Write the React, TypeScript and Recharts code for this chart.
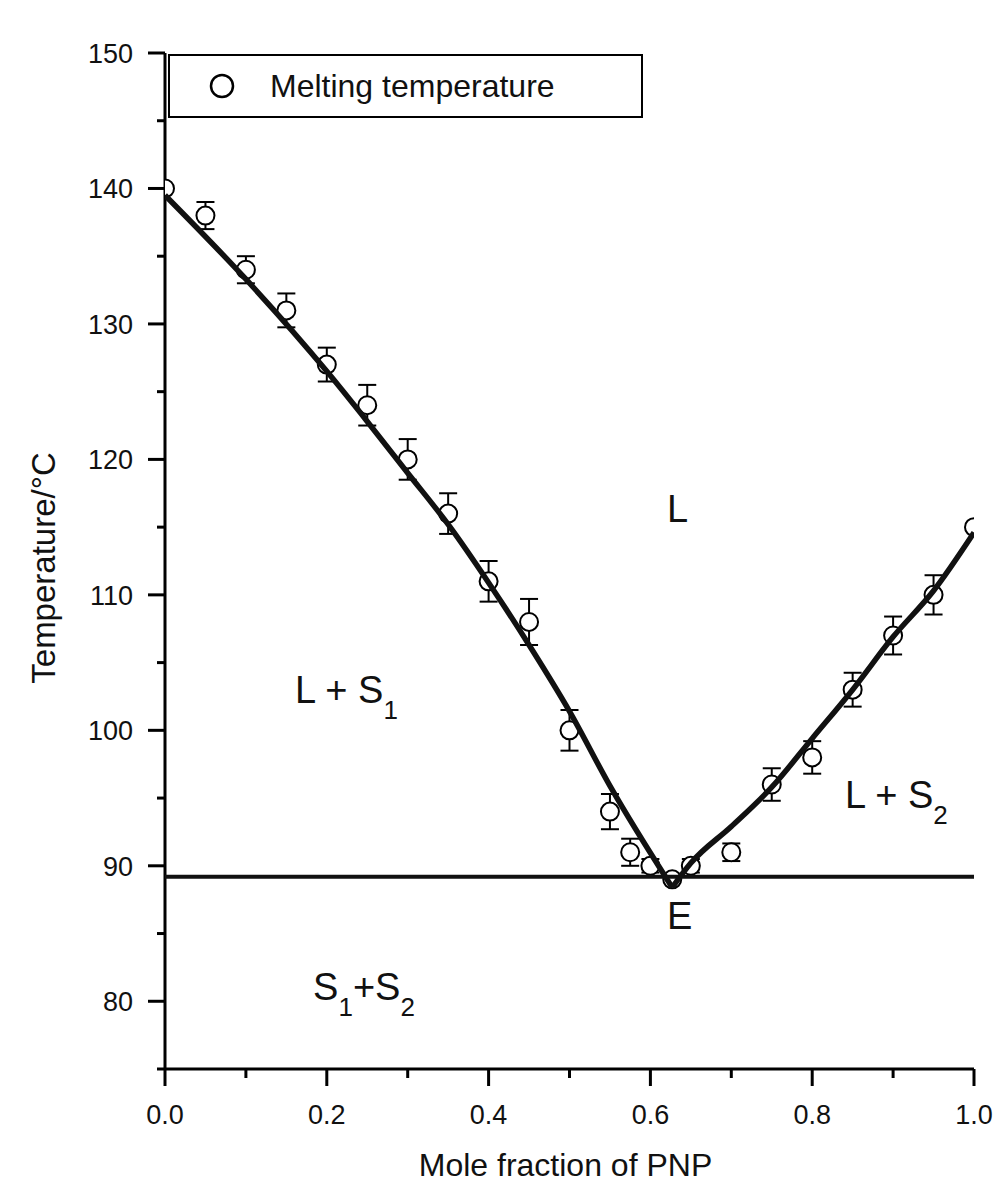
import React from "react";
import {
  ComposedChart,
  Scatter,
  XAxis,
  YAxis,
  ErrorBar,
  ReferenceDot,
  Legend,
} from "recharts";

// measured melting points
const moleFraction = [0, 0.05, 0.1, 0.15, 0.2, 0.25, 0.3, 0.35, 0.4, 0.45, 0.5, 0.55, 0.575, 0.6, 0.627, 0.65, 0.7, 0.75, 0.8, 0.85, 0.9, 0.95, 1.0];
const meltingTemp = [140, 138, 134, 131, 127, 124, 120, 116, 111, 108, 100, 94, 91, 90, 89, 90, 91, 96, 98, 103, 107, 110, 115];
const tempError = [0, 1, 1, 1.25, 1.25, 1.5, 1.5, 1.5, 1.5, 1.7, 1.5, 1.3, 1, 0.5, 0, 0.5, 0.65, 1.2, 1.2, 1.25, 1.4, 1.45, 0];

// liquidus curves
const leftCurveX = [0, 0.1, 0.2, 0.25, 0.3, 0.35, 0.4, 0.45, 0.5, 0.55, 0.627];
const leftCurveT = [139.5, 133.3, 126.5, 122.8, 119.0, 115.2, 110.9, 106.3, 101.4, 95.9, 88.4];
const rightCurveX = [0.627, 0.65, 0.7, 0.75, 0.8, 0.85, 0.9, 0.95, 1.0];
const rightCurveT = [88.4, 90.2, 92.9, 95.8, 99.4, 103.0, 106.9, 110.3, 114.6];

// eutectic line
const eutecticX = [0, 1];
const eutecticTemp = 89.2;

const xTicks = [0, 0.1, 0.2, 0.3, 0.4, 0.5, 0.6, 0.7, 0.8, 0.9, 1.0];
const yTicks = [75, 80, 85, 90, 95, 100, 105, 110, 115, 120, 125, 130, 135, 140, 145, 150];

const points = moleFraction.map((x, i) => ({ x, t: meltingTemp[i], err: tempError[i] }));
const leftCurve = leftCurveX.map((x, i) => ({ x, t: leftCurveT[i] }));
const rightCurve = rightCurveX.map((x, i) => ({ x, t: rightCurveT[i] }));
const eutectic = eutecticX.map((x) => ({ x, t: eutecticTemp }));

const FONT = "'Liberation Sans', Arial, Helvetica, sans-serif";

const XTick = ({ x, y, payload }: any) => {
  const v = payload.value;
  const major = Math.round(v * 10) % 2 === 0;
  return (
    <g>
      <line x1={x} y1={y} x2={x} y2={y + (major ? 17 : 9)} stroke="#000" strokeWidth={3} />
      {major && (
        <text x={x} y={y + 55} textAnchor="middle" fontSize={27} fontFamily={FONT} fill="#111">
          {v.toFixed(1)}
        </text>
      )}
    </g>
  );
};

const YTick = ({ x, y, payload }: any) => {
  const v = payload.value;
  const major = v % 10 === 0;
  return (
    <g>
      <line x1={x} y1={y} x2={x - (major ? 17 : 8)} y2={y} stroke="#000" strokeWidth={3} />
      {major && (
        <text x={x - 32} y={y + 10} textAnchor="end" fontSize={27} fontFamily={FONT} fill="#111">
          {v}
        </text>
      )}
    </g>
  );
};

const Circle = ({ cx, cy }: any) => (
  <circle cx={cx} cy={cy} r={9} fill="#fff" stroke="#000" strokeWidth={2} />
);

const NoMark = () => <g />;

const LegendBox = () => (
  <div
    style={{
      width: 475,
      height: 64,
      border: "2.5px solid #000",
      boxSizing: "border-box",
      background: "#fff",
      display: "flex",
      alignItems: "center",
      fontFamily: FONT,
      fontSize: 32,
      color: "#111",
    }}
  >
    <svg width={100} height={40} style={{ flex: "none" }}>
      <circle cx={52} cy={20} r={11} fill="#fff" stroke="#000" strokeWidth={2.5} />
    </svg>
    <span>Melting temperature</span>
  </div>
);

const regionText = (parts: [string, boolean][]) => (props: any) => {
  let sub = false;
  return (
    <text x={props.cx} y={props.cy} fontSize={38} fontFamily={FONT} fill="#111">
      {parts.map(([s, isSub], i) => {
        const dy = isSub && !sub ? 16 : !isSub && sub ? -16 : 0;
        sub = isSub;
        return (
          <tspan key={i} dy={dy} fontSize={isSub ? 26 : 38}>
            {s}
          </tspan>
        );
      })}
    </text>
  );
};

export default function App() {
  return (
    <div style={{ position: "absolute", left: 0, top: 0, background: "#fff" }}>
      <ComposedChart width={1001} height={1194} margin={{ top: 53, right: 27, bottom: 0, left: 0 }}>
        <XAxis
          dataKey="x"
          type="number"
          domain={[0, 1]}
          ticks={xTicks}
          interval={0}
          allowDataOverflow
          height={125}
          tickSize={0}
          tickMargin={0}
          tick={<XTick />}
          axisLine={{ stroke: "#000", strokeWidth: 3 }}
          label={{
            content: ({ viewBox }: any) => (
              <text
                x={viewBox.x + viewBox.width / 2 - 4}
                y={viewBox.y + 107}
                textAnchor="middle"
                fontSize={32}
                fontFamily={FONT}
                fill="#111"
              >
                Mole fraction of PNP
              </text>
            ),
          }}
        />
        <XAxis
          xAxisId="top"
          orientation="top"
          type="number"
          domain={[0, 1]}
          height={0}
          tick={false}
          tickLine={false}
          axisLine={{ stroke: "#000", strokeWidth: 3 }}
        />
        <YAxis
          type="number"
          domain={[75, 150]}
          ticks={yTicks}
          interval={0}
          allowDataOverflow
          width={165}
          tickSize={0}
          tickMargin={0}
          tick={<YTick />}
          axisLine={{ stroke: "#000", strokeWidth: 3 }}
          label={{
            content: ({ viewBox }: any) => {
              const cx = 55;
              const cy = viewBox.y + viewBox.height / 2 + 7;
              return (
                <text
                  x={cx}
                  y={cy}
                  transform={`rotate(-90, ${cx}, ${cy})`}
                  textAnchor="middle"
                  fontSize={33}
                  fontFamily={FONT}
                  fill="#111"
                >
                  Temperature/°C
                </text>
              );
            },
          }}
        />
        <YAxis
          yAxisId="right"
          orientation="right"
          type="number"
          domain={[75, 150]}
          width={0}
          tick={false}
          tickLine={false}
          axisLine={{ stroke: "#000", strokeWidth: 3 }}
        />
        <Legend
          layout="horizontal"
          verticalAlign="middle"
          align="center"
          content={<LegendBox />}
          wrapperStyle={{ position: "absolute", left: 168, top: 54, width: 477, height: 66 }}
        />
        <Scatter data={points} dataKey="t" fill="#fff" shape={<Circle />} isAnimationActive={false}>
          <ErrorBar dataKey="err" direction="y" width={9} stroke="#000" strokeWidth={2} isAnimationActive={false} />
        </Scatter>
        <Scatter
          data={eutectic}
          dataKey="t"
          fill="#111"
          shape={<NoMark />}
          line={{ stroke: "#111", strokeWidth: 4 }}
          lineType="joint"
          isAnimationActive={false}
        />
        <Scatter
          data={leftCurve}
          dataKey="t"
          fill="#111"
          shape={<NoMark />}
          line={{ stroke: "#111", strokeWidth: 5.5 }}
          lineType="joint"
          lineJointType="monotone"
          isAnimationActive={false}
        />
        <Scatter
          data={rightCurve}
          dataKey="t"
          fill="#111"
          shape={<NoMark />}
          line={{ stroke: "#111", strokeWidth: 5.5 }}
          lineType="joint"
          lineJointType="monotone"
          isAnimationActive={false}
        />
        <ReferenceDot x={0.6205} y={115.4} r={0} shape={regionText([["L", false]])} />
        <ReferenceDot x={0.1607} y={102.0} r={0} shape={regionText([["L + S", false], ["1", true]])} />
        <ReferenceDot x={0.8405} y={94.3} r={0} shape={regionText([["L + S", false], ["2", true]])} />
        <ReferenceDot
          x={0.183}
          y={80.1}
          r={0}
          shape={regionText([["S", false], ["1", true], ["+S", false], ["2", true]])}
        />
        <ReferenceDot x={0.6205} y={85.3} r={0} shape={regionText([["E", false]])} />
      </ComposedChart>
    </div>
  );
}
